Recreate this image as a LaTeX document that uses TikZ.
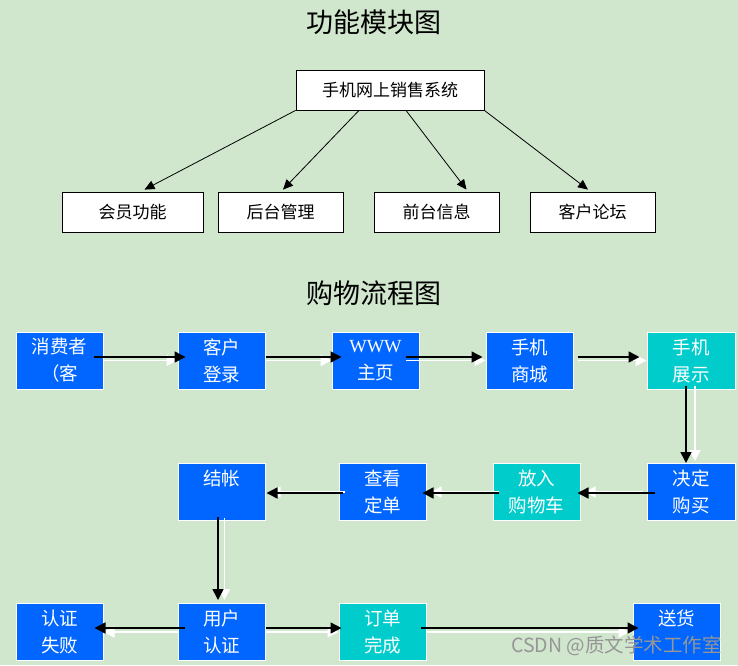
\documentclass[tikz,border=0pt]{standalone}
\usepackage{fontspec}
\newfontfamily\cjk{Noto Sans CJK SC}
\newfontfamily\serifw{Liberation Serif}
\usetikzlibrary{arrows.meta}
\definecolor{bgc}{RGB}{208,231,205}
\definecolor{boxblue}{RGB}{0,102,255}
\definecolor{boxcyan}{RGB}{0,204,204}
\definecolor{wmgray}{RGB}{150,150,150}
\tikzset{
  titletext/.style={font=\cjk\fontsize{27}{32}\selectfont, inner sep=0pt},
  modbox/.style={draw=black, fill=white, line width=0.8pt, inner sep=0pt,
    font=\cjk\fontsize{17}{20}\selectfont, minimum height=40pt},
  modarrow/.style={line width=0.8pt, -{Triangle[length=10pt,width=9pt]}},
  flowbox/.style={draw=white, line width=1pt, fill=boxblue, inner sep=0pt,
    minimum width=87pt, minimum height=57pt, text=white, align=center,
    font=\cjk\fontsize{18.5}{27}\selectfont,
    execute at begin node={\rule{0pt}{23pt}}},
  flowcyan/.style={flowbox, fill=boxcyan},
  flowarrow/.style={line width=1.5pt, black, -{Triangle[length=11pt,width=11pt]}},
  shadowarrow/.style={line width=1.5pt, white, -{Triangle[length=11pt,width=11pt]}},
}
\begin{document}
\begin{tikzpicture}[x=1pt,y=-1pt]
\fill[bgc] (0,0) rectangle (738,665);
\useasboundingbox (0,0) rectangle (738,665);

% ---- module chart ----
\node[titletext] (t1) at (374,22) {功能模块图};
\node[modbox, minimum width=188pt] (top) at (390,90) {手机网上销售系统};
\node[modbox, minimum width=141pt] (a1) at (132.5,212) {会员功能};
\node[modbox, minimum width=125pt] (a2) at (280.5,212) {后台管理};
\node[modbox, minimum width=125pt] (a3) at (436.5,212) {前台信息};
\node[modbox, minimum width=125pt] (a4) at (592.5,212) {客户论坛};
\draw[modarrow] (top.south west) -- ([shift={(12,-2)}]a1.north);
\draw[modarrow] ([xshift=-31]top.south) -- ([shift={(2.5,-2)}]a2.north);
\draw[modarrow] ([xshift=16]top.south) -- ([shift={(30,-2)}]a3.north);
\draw[modarrow] (top.south east) -- ([shift={(-4.5,-2)}]a4.north);

% ---- flow chart ----
\node[titletext] (t2) at (374,293) {购物流程图};

\node[flowbox]  (n1) at (59.5,360.5) {消费者\\（客};
\node[flowbox]  (n2) at (221.5,360.5) {客户\\登录};
\node[flowbox]  (n3) at (375.5,360.5) {{\serifw WWW}\\主页};
\node[flowbox]  (n4) at (529.5,360.5) {手机\\商城};
\node[flowcyan, minimum width=88pt] (n5) at (691,360.5) {手机\\展示};

\node[flowbox]  (m1) at (221.5,492) {结帐\\\phantom{结帐}};
\node[flowbox]  (m2) at (382.5,492) {查看\\定单};
\node[flowcyan] (m3) at (536.5,492) {放入\\购物车};
\node[flowbox, minimum width=88pt] (m4) at (691,492) {决定\\购买};

\node[flowbox]  (r1) at (59.5,632) {认证\\失败};
\node[flowbox]  (r2) at (221.5,632) {用户\\认证};
\node[flowcyan] (r3) at (382.5,632) {订单\\完成};
\node[flowbox]  (r4) at (676.5,632) {送货\\\phantom{送货}};

% white shadows
\draw[shadowarrow] (n1.east) -- (n2.west);
\draw[shadowarrow] (n2.east) -- (n3.west);
\draw[shadowarrow] ([xshift=-14]n3.east) -- (n4.west);
\draw[shadowarrow] ([xshift=4]n4.east) -- (n5.west);
\draw[shadowarrow] ([shift={(4,-4)}]n5.south) -- ([shift={(4,-2)}]m4.north);
\draw[shadowarrow] ([shift={(-4,0)}]m4.west) -- ([shift={(4,0)}]m3.east);
\draw[shadowarrow] ([shift={(6,0)}]m3.west) -- ([shift={(4,0)}]m2.east);
\draw[shadowarrow] ([shift={(6,0)}]m2.west) -- ([shift={(4,0)}]m1.east);
\draw[shadowarrow] ([shift={(3,-3)}]m1.south) -- ([shift={(3,-3)}]r2.north);
\draw[shadowarrow] (r2.west) -- (r1.east);
\draw[shadowarrow] (r2.east) -- (r3.west);
\draw[shadowarrow] (r3.east) -- ([xshift=-3]r4.west);

% black arrows
\draw[flowarrow] ([shift={(-10,-3.5)}]n1.east) -- ([shift={(8,-3.5)}]n2.west);
\draw[flowarrow] ([shift={(0,-3.5)}]n2.east) -- ([shift={(10,-3.5)}]n3.west);
\draw[flowarrow] ([shift={(-14,-3.5)}]n3.east) -- ([shift={(-3,-3.5)}]n4.west);
\draw[flowarrow] ([shift={(4,-3.5)}]n4.east) -- ([shift={(-7,-3.5)}]n5.west);
\draw[flowarrow] ([shift={(-5,-4)}]n5.south) -- ([shift={(-5,0)}]m4.north);
\draw[flowarrow] ([shift={(8,1)}]m4.west) -- ([shift={(-3,1)}]m3.east);
\draw[flowarrow] ([shift={(6,1)}]m3.west) -- ([shift={(-4,1)}]m2.east);
\draw[flowarrow] ([shift={(4,1)}]m2.west) -- ([shift={(1,1)}]m1.east);
\draw[flowarrow] ([shift={(-3.5,-4)}]m1.south) -- ([shift={(-3.5,-3)}]r2.north);
\draw[flowarrow] ([shift={(7,-4)}]r2.west) -- ([shift={(-9,-4)}]r1.east);
\draw[flowarrow] ([shift={(0,-4)}]r2.east) -- ([shift={(3,-4)}]r3.west);
\draw[flowarrow] ([shift={(-6,-4)}]r3.east) -- ([shift={(6,-4)}]r4.west);

% watermark
\node[font=\cjk\fontsize{19.5}{22}\selectfont, text=wmgray, anchor=west, inner sep=0pt] (wm) at (511,646) {CSDN @质文学术工作室};
\end{tikzpicture}
\end{document}
